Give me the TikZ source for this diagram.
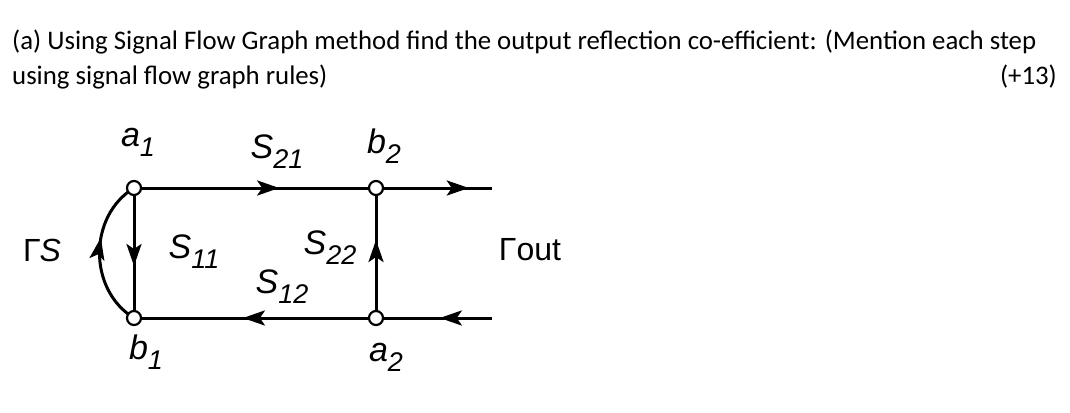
\documentclass[tikz,border=0pt]{standalone}
\usepackage{fontspec}
\setmainfont{Carlito}
\newfontfamily\arialf{Liberation Sans}
\newcommand{\mysb}[1]{\raisebox{-0.3em}{\fontsize{27}{27}\selectfont #1}}
\usetikzlibrary{decorations.markings,arrows.meta}
\begin{document}
\begin{tikzpicture}[x=1pt,y=-1pt,
  pt/.style={circle,draw,line width=2.2pt,fill=white,minimum size=14pt,inner sep=0pt},
  edge/.style={line width=3pt},
  mid/.style={edge,postaction={decorate},decoration={markings,mark=at position #1 with {\arrow{Stealth[length=22pt,width=15pt,inset=5pt]}}}},
  lab/.style={font=\arialf\fontsize{34}{34}\selectfont\itshape},
  hdr/.style={font=\fontsize{26.8}{30}\selectfont,anchor=base west,inner sep=0pt}]
\useasboundingbox (0,0) rectangle (1070,412);
\node[hdr] (t1) at (12,49) {(a) Using Signal Flow Graph method find the output reflection co-efficient: (Mention each step};
\node[hdr] (t2) at (12,84) {using signal flow graph rules)};
\node[hdr,anchor=base east] (t3) at (1057,84) {(+13)};
\coordinate (a1) at (134,188);
\coordinate (b2) at (376,188);
\coordinate (b1) at (134,318);
\coordinate (a2) at (376,318);
\coordinate (oR) at (492,188);
\coordinate (iR) at (492,318);
\draw[mid=0.6] (a1) -- (b2);
\draw[mid=0.8] (b2) -- (oR);
\draw[mid=0.55] (a2) -- (b1);
\draw[mid=0.45] (iR) -- (a2);
\draw[mid=0.6] (a1) -- (b1);
\draw[mid=0.6] (a2) -- (b2);
\draw[mid=0.6] (b1) .. controls (88,290) and (88,216) .. (a1);
\node[pt] (na1) at (a1) {};
\node[pt] (nb2) at (b2) {};
\node[pt] (nb1) at (b1) {};
\node[pt] (na2) at (a2) {};
\node[lab] (la1) at (138,142) {a\mysb{1}};
\node[lab] (lb2) at (384,146) {b\mysb{2}};
\node[lab] (ls21) at (277,152) {S\mysb{21}};
\node[lab] (ls11) at (194,252) {S\mysb{11}};
\node[lab] (ls22) at (330,248) {S\mysb{22}};
\node[lab] (ls12) at (282,287) {S\mysb{12}};
\node[lab] (lb1) at (146,352) {b\mysb{1}};
\node[lab] (la2) at (386,357) {a\mysb{2}};
\node[font=\arialf\fontsize{32}{32}\selectfont] (gs) at (42,250) {Γ\kern-1pt\textit{S}};
\node[font=\arialf\fontsize{32}{32}\selectfont] (go) at (530,250) {Γout};
\end{tikzpicture}
\end{document}
